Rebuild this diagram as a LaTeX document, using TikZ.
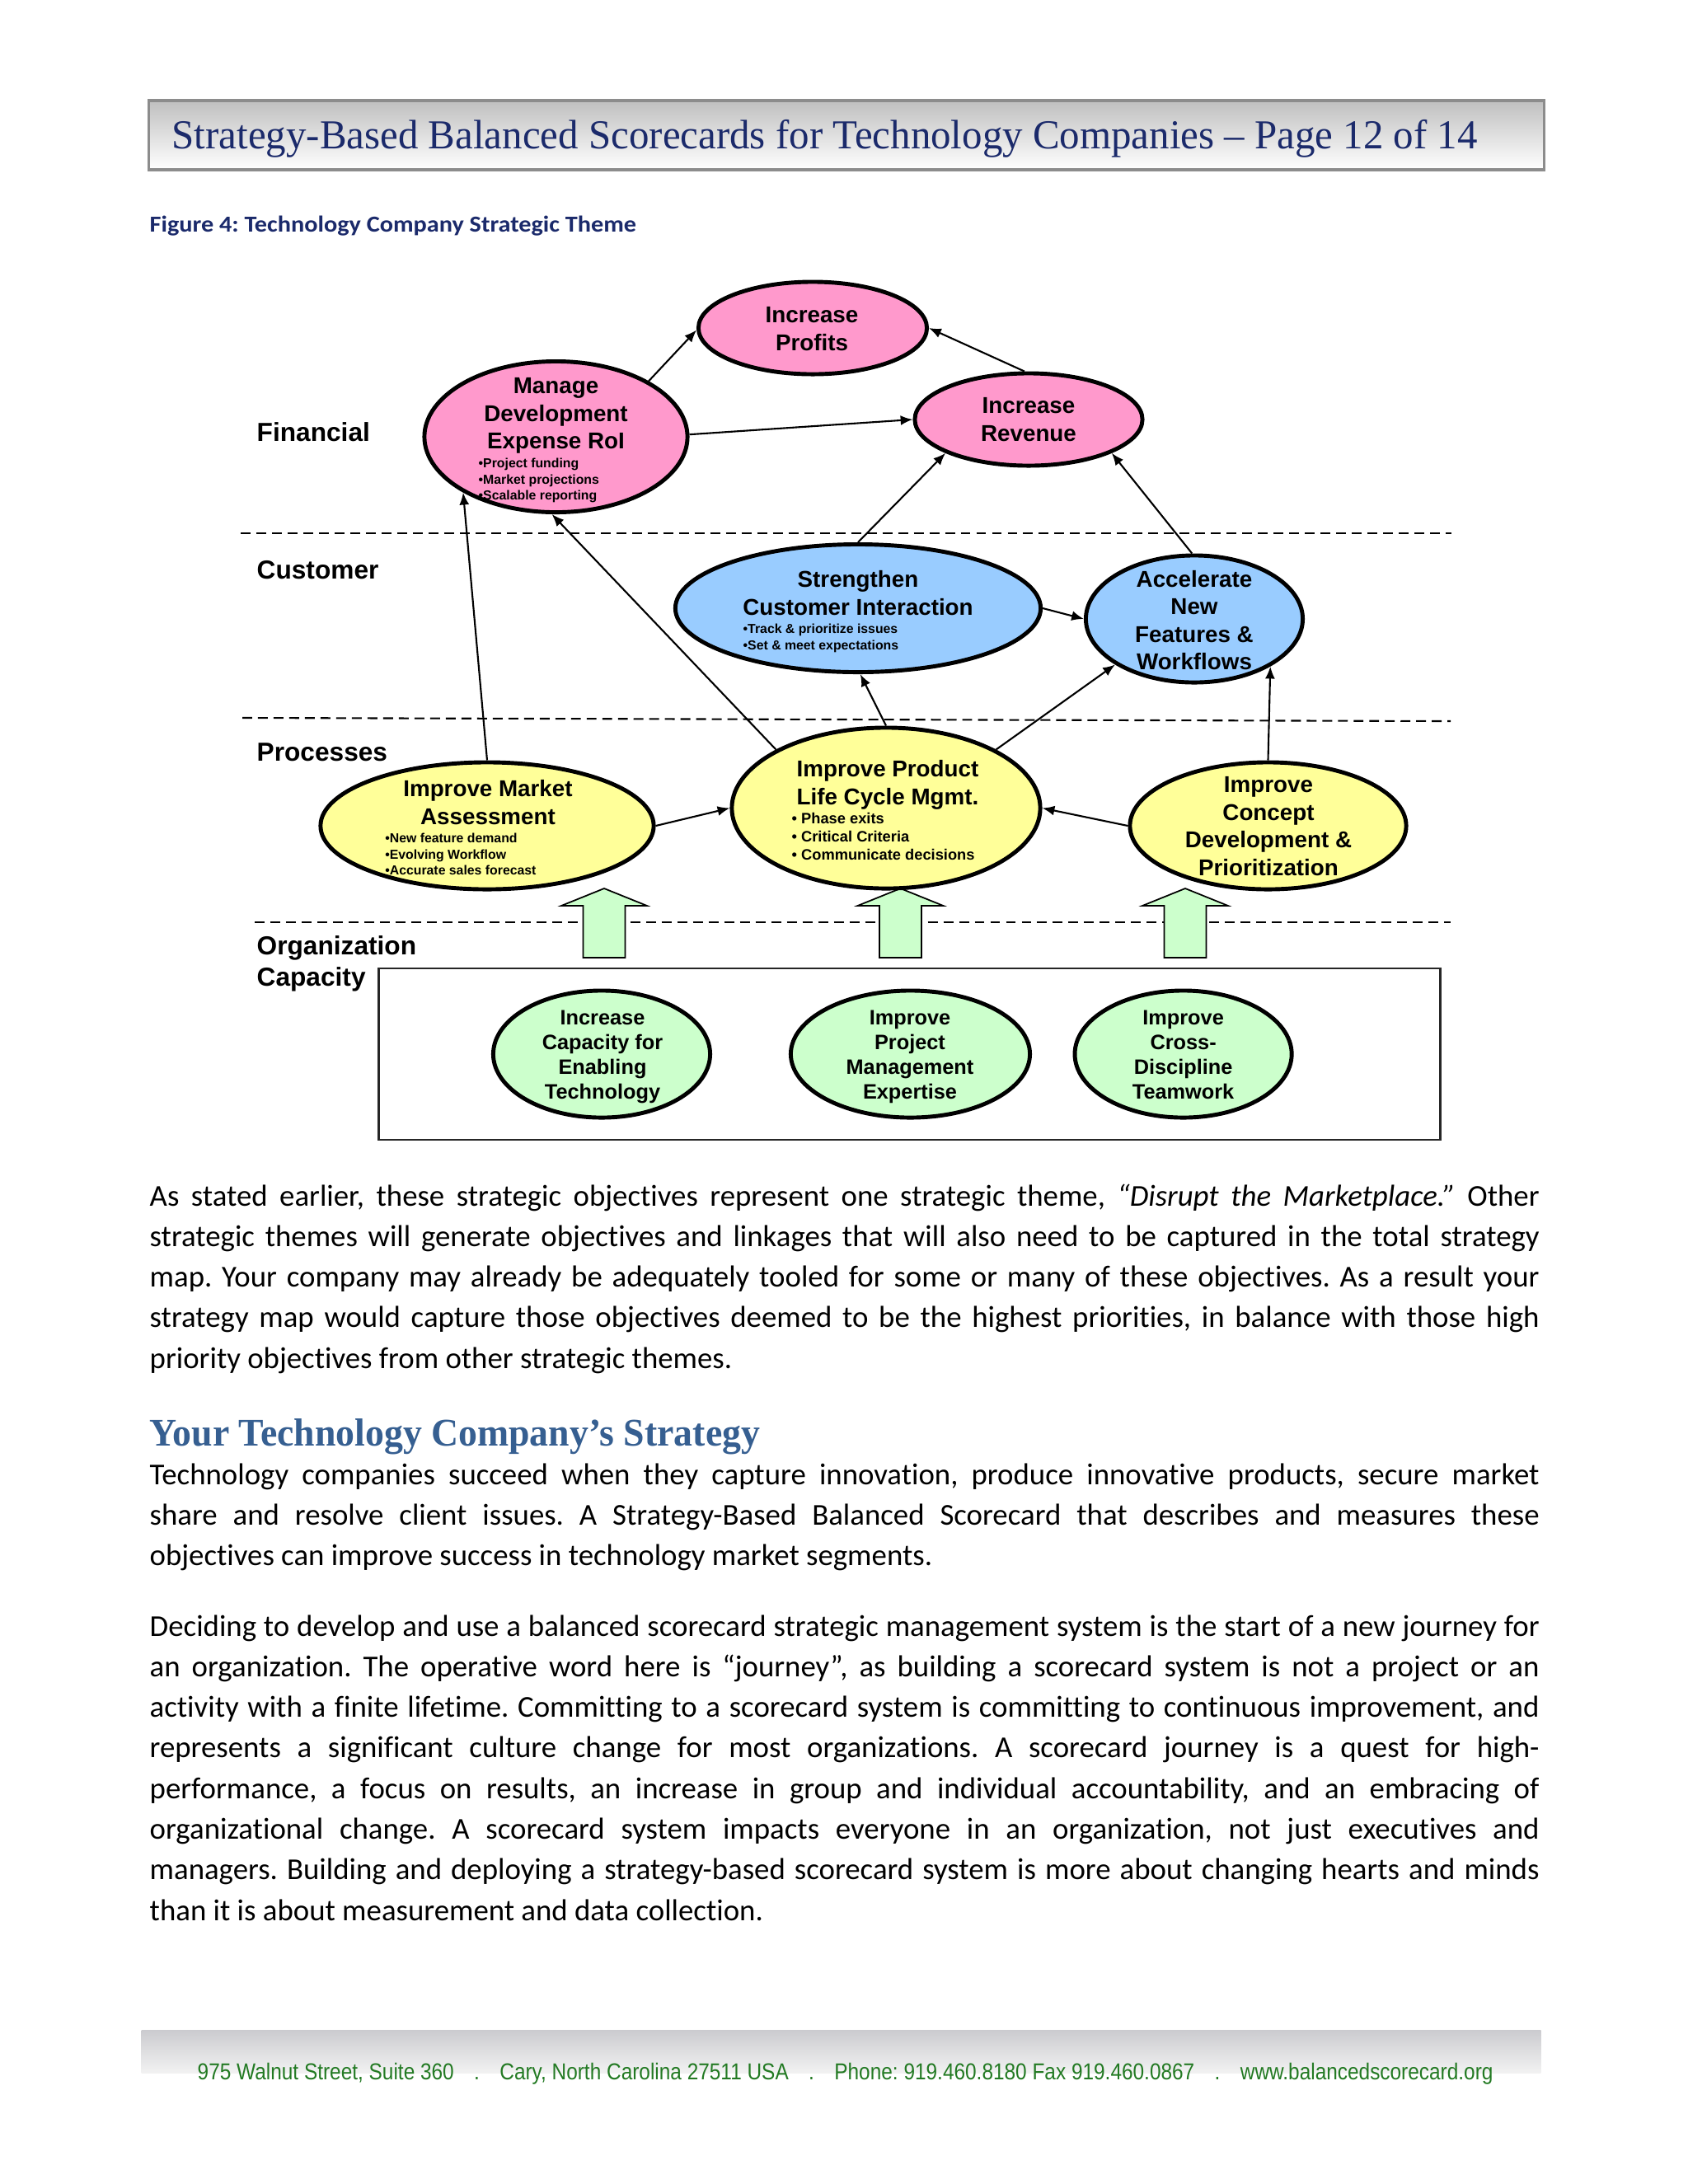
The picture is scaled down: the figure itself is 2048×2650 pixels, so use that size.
\documentclass[tikz,border=0pt]{standalone}
\usepackage{fontspec}
\usepackage{graphicx}
\setmainfont{Carlito}[Ligatures=NoCommon]
\newfontfamily\arialf{Liberation Sans}
\newfontfamily\cambf{Liberation Serif}
\usetikzlibrary{shapes.geometric,arrows.meta}
\definecolor{pinkc}{HTML}{FF99CC}
\definecolor{bluec}{HTML}{99CCFF}
\definecolor{yellowc}{HTML}{FFFF99}
\definecolor{greenc}{HTML}{CCFFCC}
\definecolor{navyc}{HTML}{1B2A6B}
\definecolor{headc}{HTML}{365F91}
\definecolor{footc}{HTML}{237A23}
\definecolor{bandtop}{HTML}{CBCBCF}
\definecolor{bandbot}{HTML}{F2F2F2}
\newcommand{\bodyfnt}{\fontsize{10.47}{14.03}\selectfont}
\newcommand{\jline}[1]{\makebox[16.85cm][s]{#1}}
\frenchspacing
\tikzset{
  ell/.style={ellipse, draw=black, line width=1.4pt, inner sep=0pt},
  pinkell/.style={ell, fill=pinkc},
  blueell/.style={ell, fill=bluec},
  yelell/.style={ell, fill=yellowc},
  grnell/.style={ell, fill=greenc},
  lbl/.style={inner sep=0pt, align=center, anchor=north, font=\arialf\bfseries\fontsize{7.9}{9.53}\selectfont},
  glbl/.style={inner sep=0pt, align=center, anchor=north, font=\arialf\bfseries\fontsize{7.2}{8.6}\selectfont},
  bul/.style={inner sep=0pt, align=left, anchor=north west, font=\arialf\bfseries\fontsize{4.5}{5.5}\selectfont},
  pbul/.style={inner sep=0pt, align=left, anchor=north west, font=\arialf\bfseries\fontsize{5.2}{6.26}\selectfont},
  sec/.style={inner sep=0pt, anchor=base west, font=\arialf\bfseries\fontsize{9}{11}\selectfont},
  conn/.style={line width=0.6pt, -{Latex[length=4.2pt,width=3.4pt]}},
  dline/.style={line width=0.6pt, dash pattern=on 3.4pt off 2pt},
  blockar/.style={fill=greenc, draw=black, line width=0.5pt},
  body/.style={inner sep=0pt, anchor=base west, font=\bodyfnt},
}
\begin{document}
\begin{tikzpicture}[x=0.01cm,y=-0.01cm]
\useasboundingbox (0,0) rectangle (2048,2650);
\fill[white] (0,0) rectangle (2048,2650);

% header
\node[draw=black!45, line width=0.9pt, top color=black!25, bottom color=white,
      minimum width=16.92cm, minimum height=0.84cm, inner sep=0pt] (hdr) at (1027,164) {};
\node[anchor=base west, inner sep=0pt, text=navyc, font=\cambf\fontsize{14.2}{16}\selectfont] (title) at (208,180)
  {\resizebox{15.83cm}{\height}{Strategy-Based Balanced Scorecards for Technology Companies – Page 12 of 14}};
\node[anchor=base west, inner sep=0pt, text=navyc, font=\bfseries\fontsize{7.9}{9}\selectfont] (figcap) at (181,281)
  {\resizebox{5.90cm}{\height}{Figure 4: Technology Company Strategic Theme}};

% perspective separators
\draw[dline] (292,647) -- (1761,647);
\draw[dline] (294,871) -- (1760,875);
\draw[dline] (309,1119) -- (1760,1119);

% section labels
\node[sec] (finL) at (311,535) {Financial};
\node[sec] (custL) at (311,702) {Customer};
\node[sec] (procL) at (311,923) {Processes};
\node[sec] (orgL) at (311,1158) {Organization};
\node[sec] (capL) at (311,1196) {Capacity};

% organization box
\node[draw=black!85, line width=0.7pt, minimum width=12.87cm, minimum height=2.08cm, inner sep=0pt] (orgbox) at (1103.5,1279) {};

% block arrows
\coordinate (ba1) at (733,1162);
\coordinate (ba2) at (1092.5,1162);
\coordinate (ba3) at (1438,1162);
\foreach \b in {ba1,ba2,ba3}{
  \draw[blockar] (\b) ++(-25.5,0) -- ++(0,-63) -- ++(-26.5,0) -- ++(52,-21) -- ++(52,21) -- ++(-26.5,0) -- ++(0,63) -- cycle;
}

% ellipses
\node[pinkell, minimum width=2.77cm, minimum height=1.12cm] (profits) at (986,398) {};
\node[pinkell, minimum width=3.19cm, minimum height=1.83cm] (manage) at (674.5,530) {};
\node[pinkell, minimum width=2.76cm, minimum height=1.12cm] (revenue) at (1248,509) {};
\node[blueell, minimum width=4.43cm, minimum height=1.55cm] (strength) at (1041,738) {};
\node[blueell, minimum width=2.63cm, minimum height=1.54cm] (accel) at (1449,751) {};
\node[yelell, minimum width=4.04cm, minimum height=1.54cm] (market) at (591,1002) {};
\node[yelell, minimum width=3.74cm, minimum height=1.95cm] (product) at (1075,980.5) {};
\node[yelell, minimum width=3.35cm, minimum height=1.54cm] (concept) at (1538.5,1002) {};
\node[grnell, minimum width=2.63cm, minimum height=1.54cm] (cap1) at (730,1279) {};
\node[grnell, minimum width=2.90cm, minimum height=1.54cm] (cap2) at (1104.5,1279) {};
\node[grnell, minimum width=2.63cm, minimum height=1.54cm] (cap3) at (1435.6,1279) {};

% ellipse texts
\node[lbl] (profitsT) at (985,372) {Increase\\Profits};
\node[lbl] (revenueT) at (1248,482) {Increase\\Revenue};
\node[lbl] (manageT) at (674.5,458) {Manage\\Development\\Expense RoI};
\node[bul] (manageB) at (580,555.6) {•Project funding\\•Market projections\\•Scalable reporting};
\node[lbl] (strengthT) at (1041,692) {Strengthen\\Customer Interaction};
\node[bul] (strengthB) at (901,756.6) {•Track \& prioritize issues\\•Set \& meet expectations};
\node[lbl] (accelT) at (1449,691.5) {Accelerate\\New\\Features \&\\Workflows};
\node[lbl] (marketT) at (592,946) {Improve Market\\Assessment};
\node[bul, font=\arialf\bfseries\fontsize{4.5}{5.6}\selectfont] (marketB) at (466.6,1010.3) {•New feature demand\\•Evolving Workflow\\•Accurate sales forecast};
\node[lbl] (productT) at (1077,922) {Improve Product\\Life Cycle Mgmt.};
\node[pbul] (productB) at (960,985.8) {• Phase exits\\• Critical Criteria\\• Communicate decisions};
\node[lbl] (conceptT) at (1539,942) {Improve\\Concept\\Development \&\\Prioritization};
\node[glbl] (cap1T) at (731,1225) {Increase\\Capacity for\\Enabling\\Technology};
\node[glbl] (cap2T) at (1104,1225) {Improve\\Project\\Management\\Expertise};
\node[glbl] (cap3T) at (1435.6,1225) {Improve\\Cross-\\Discipline\\Teamwork};

% connectors
\draw[conn] (manage.31) -- (profits.181);
\draw[conn] (revenue.95) -- (profits.0);
\draw[conn] (manage.1) -- (revenue.180);
\draw[conn] (strength.90) -- (revenue.202);
\draw[conn] (accel.92) -- (revenue.338);
\draw[conn] (strength.0) -- (accel.180);
\draw[conn] (market.90) -- (manage.211);
\draw[conn] (product.152) -- (manage.267);
\draw[conn] (product.90) -- (strength.272);
\draw[conn] (product.28) -- (accel.210);
\draw[conn] (concept.90) -- (accel.328);
\draw[conn] (market.0) -- (product.180);
\draw[conn] (concept.180) -- (product.0);

% body text
\node[body] (p1a) at (181,1463) {\jline{As stated earlier, these strategic objectives represent one strategic theme, \textit{“Disrupt the Marketplace.”} Other}};
\node[body] (p1b) at (181,1512.3) {\jline{strategic themes will generate objectives and linkages that will also need to be captured in the total strategy}};
\node[body] (p1c) at (181,1561.6) {\jline{map. Your company may already be adequately tooled for some or many of these objectives. As a result your}};
\node[body] (p1d) at (181,1610.9) {\jline{strategy map would capture those objectives deemed to be the highest priorities, in balance with those high}};
\node[body] (p1e) at (181,1660.2) {priority objectives from other strategic themes.};

\node[anchor=base west, inner sep=0pt, text=headc, font=\cambf\bfseries\fontsize{13.5}{15}\selectfont] (head) at (181,1754)
  {\resizebox{7.40cm}{\height}{Your Technology Company’s Strategy}};

\node[body] (p2a) at (181,1801) {\jline{Technology companies succeed when they capture innovation, produce innovative products, secure market}};
\node[body] (p2b) at (181,1850.3) {\jline{share and resolve client issues. A Strategy-Based Balanced Scorecard that describes and measures these}};
\node[body] (p2c) at (181,1899.6) {objectives can improve success in technology market segments.};

\node[body] (p3a) at (181,1985) {\jline{Deciding to develop and use a balanced scorecard strategic management system is the start of a new journey for}};
\node[body] (p3b) at (181,2034.3) {\jline{an organization. The operative word here is “journey”, as building a scorecard system is not a project or an}};
\node[body] (p3c) at (181,2083.6) {\jline{activity with a finite lifetime. Committing to a scorecard system is committing to continuous improvement, and}};
\node[body] (p3d) at (181,2132.9) {\jline{represents a significant culture change for most organizations. A scorecard journey is a quest for high-}};
\node[body] (p3e) at (181,2182.2) {\jline{performance, a focus on results, an increase in group and individual accountability, and an embracing of}};
\node[body] (p3f) at (181,2231.5) {\jline{organizational change. A scorecard system impacts everyone in an organization, not just executives and}};
\node[body] (p3g) at (181,2280.8) {\jline{managers. Building and deploying a strategy-based scorecard system is more about changing hearts and minds}};
\node[body] (p3h) at (181,2330.1) {than it is about measurement and data collection.};

% footer
\node[inner sep=0pt, minimum width=16.97cm, minimum height=0.52cm, top color=bandtop, bottom color=bandbot] (footband) at (1020.5,2489) {};
\node[anchor=base west, inner sep=0pt, text=footc, font=\arialf\fontsize{7.96}{9}\selectfont] (foot) at (239,2523)
  {\resizebox{15.71cm}{\height}{975 Walnut Street, Suite 360\hspace{1em}.\hspace{1em}Cary, North Carolina 27511 USA\hspace{1em}.\hspace{1em}Phone: 919.460.8180 Fax 919.460.0867\hspace{1em}.\hspace{1em}www.balancedscorecard.org}};
\end{tikzpicture}
\end{document}
